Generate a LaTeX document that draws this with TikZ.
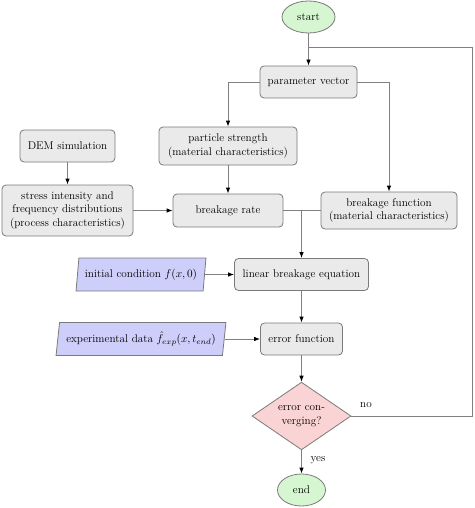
\RequirePackage{fix-cm}
\documentclass[tikz,border=0pt]{standalone}
\usepackage{fontspec}
\usetikzlibrary{shapes.geometric,arrows.meta,calc}
\definecolor{boxfill}{RGB}{234,234,234}
\definecolor{edgegray}{RGB}{122,122,122}
\definecolor{linegray}{RGB}{128,128,128}
\definecolor{greenfill}{RGB}{214,246,210}
\definecolor{bluefill}{RGB}{206,206,250}
\definecolor{pinkfill}{RGB}{250,212,212}
\tikzset{
  every node/.style={font=\fontsize{11.2}{13.5}\selectfont},
  procbox/.style={draw=edgegray, line width=0.8pt, fill=boxfill, rounded corners=4pt, inner sep=0pt, align=center},
  termnode/.style={ellipse, draw=edgegray, line width=0.8pt, fill=greenfill, inner sep=0pt},
  iobox/.style={trapezium, trapezium left angle=77, trapezium right angle=103, trapezium stretches=true, draw=edgegray, line width=0.8pt, fill=bluefill, inner sep=0pt},
  decbox/.style={diamond, draw=edgegray, line width=0.8pt, fill=pinkfill, inner sep=0pt, align=center},
  conn/.style={draw=linegray, line width=0.8pt},
  arr/.style={conn, -{Latex[color=black,length=6pt,width=4.5pt]}},
  lbl/.style={inner sep=0pt}
}
\begin{document}
\begin{tikzpicture}[x=1pt,y=-1pt]
\useasboundingbox (0,0) rectangle (474,508);
% nodes
\node[termnode, minimum width=53pt, minimum height=32pt] (start) at (308.5,17) {start};
\node[procbox, minimum width=97pt, minimum height=32pt] (param) at (308.5,82) {parameter vector};
\node[procbox, minimum width=95pt, minimum height=32pt] (dem) at (67.5,146) {DEM simulation};
\node[procbox, minimum width=138pt, minimum height=38pt] (part) at (228,146) {particle strength\\(material characteristics)};
\node[procbox, minimum width=131pt, minimum height=51pt] (stress) at (67.5,210.5) {stress intensity and\\frequency distributions\\(process characteristics)};
\node[procbox, minimum width=110pt, minimum height=33pt] (rate) at (228,210.5) {breakage rate};
\node[procbox, minimum width=136pt, minimum height=37pt] (bfunc) at (389,210.5) {breakage function\\(material characteristics)};
\node[iobox, minimum width=130pt, minimum height=33pt] (init) at (141,274.5) {initial condition $f(x,0)$};
\node[procbox, minimum width=134pt, minimum height=32pt] (lin) at (301.5,274.5) {linear breakage equation};
\node[iobox, minimum width=170pt, minimum height=33pt] (expd) at (141,339) {experimental data $\hat{f}_{exp}(x,t_{end})$};
\node[procbox, minimum width=82pt, minimum height=32pt] (errf) at (301.5,339) {error function};
\node[decbox, minimum width=99pt, minimum height=66pt] (dec) at (301.5,416) {error con-\\verging?};
\node[termnode, minimum width=48pt, minimum height=32pt] (end) at (301.5,490) {end};
% coordinates
\coordinate (junc) at (lin.north |- rate.east);
\coordinate (fb) at (472,47);
% connectors
\draw[arr] (start) -- (param);
\draw[arr] (param.west) -| (part.north);
\draw[arr] (param.east) -| (bfunc.north);
\draw[arr] (dem) -- (stress);
\draw[arr] (part) -- (rate);
\draw[arr] (stress.east |- rate.west) -- (rate.west);
\draw[conn] (rate.east) -- (bfunc.west);
\draw[arr] (junc) -- (lin.north);
\draw[arr] (init.east |- lin.west) -- (lin.west);
\draw[arr] (lin) -- (errf);
\draw[arr] (expd.east |- errf.west) -- (errf.west);
\draw[arr] (errf) -- (dec);
\draw[arr] (dec) -- (end);
\draw[conn] (dec.east) -| (fb) -- (start.south |- fb);
% labels
\node[lbl] (nolbl) at (366,405) {no};
\node[lbl] (yeslbl) at (318,460) {yes};
\end{tikzpicture}
\end{document}
